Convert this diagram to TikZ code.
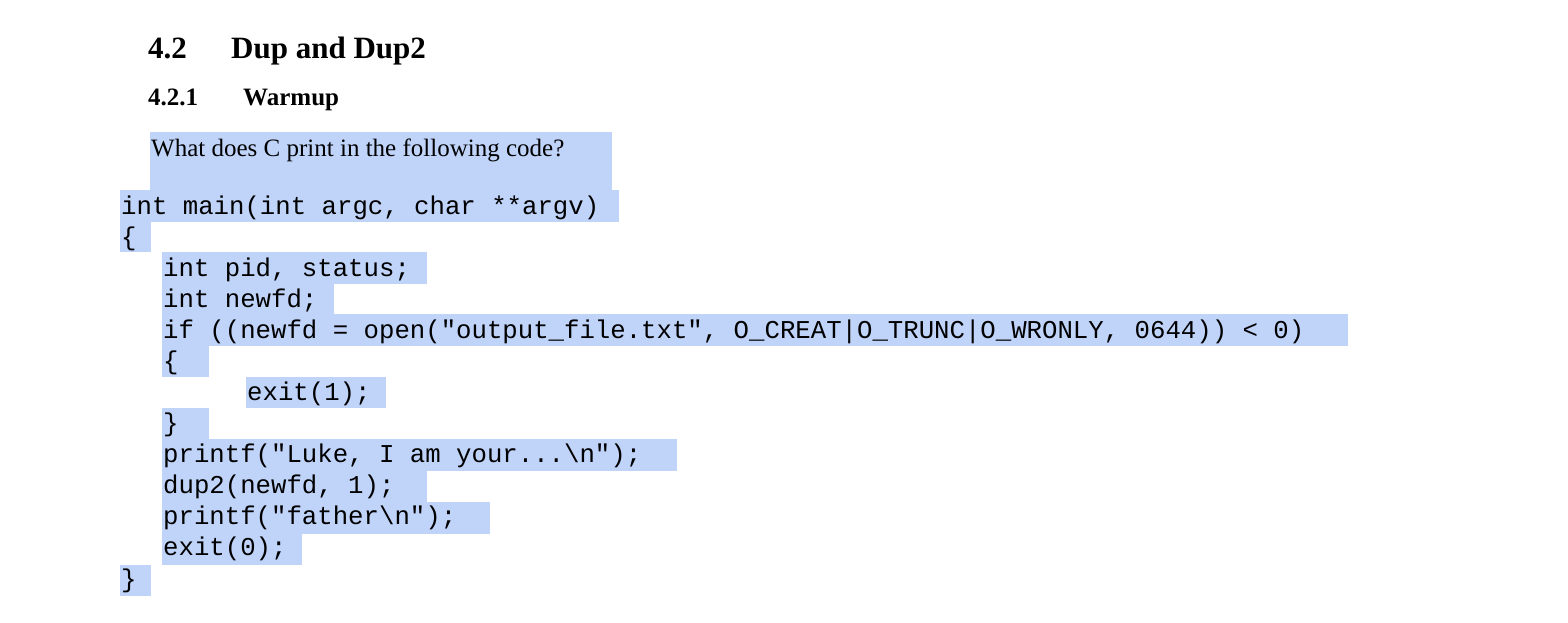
\documentclass[tikz,border=0pt]{standalone}
\usepackage{fontspec}
\setmainfont{Liberation Serif}
\setmonofont{Liberation Mono}
\definecolor{hl}{HTML}{C0D4FA}
\begin{document}
\begin{tikzpicture}[x=1pt,y=-1pt,
  txt/.style={anchor=base west,inner sep=0pt},
  code/.style={txt,font=\fontsize{25.7}{30}\ttfamily},
  hlbox/.style={fill=hl,draw=none}]
\useasboundingbox (0,0) rectangle (1568,622);
\fill[white] (0,0) rectangle (1568,622);
% highlights
\fill[hl] (150,132) rectangle (612,190);
\fill[hl] (120,190) rectangle (619,222);
\fill[hl] (120,222) rectangle (151,252);
\fill[hl] (162,252) rectangle (427,284);
\fill[hl] (162,284) rectangle (334,314);
\fill[hl] (162,314) rectangle (1348,346);
\fill[hl] (162,346) rectangle (209,377);
\fill[hl] (246,377) rectangle (386,408);
\fill[hl] (162,408) rectangle (209,439);
\fill[hl] (162,439) rectangle (677,471);
\fill[hl] (162,471) rectangle (427,502);
\fill[hl] (162,502) rectangle (490,534);
\fill[hl] (162,534) rectangle (302,565);
\fill[hl] (120,565) rectangle (151,596);
% headings
\node[txt,font=\fontsize{31}{36}\bfseries] (s1) at (148,58) {4.2};
\node[txt,font=\fontsize{31}{36}\bfseries] (s1t) at (231,58) {Dup and Dup2};
\node[txt,font=\fontsize{25}{30}\bfseries] (s2) at (148,105) {4.2.1};
\node[txt,font=\fontsize{25}{30}\bfseries] (s2t) at (243,105) {Warmup};
\node[txt,font=\fontsize{25}{30}\selectfont] (q) at (151,156) {What does C print in the following code?};
% code
\node[code] (c1) at (121,214) {int main(int argc, char **argv)};
\node[code] (c2) at (121,245) {\{};
\node[code] (c3) at (163,276) {int pid, status;};
\node[code] (c4) at (163,307) {int newfd;};
\node[code] (c5) at (163,338) {if ((newfd = open("output\_file.txt", O\_CREAT|O\_TRUNC|O\_WRONLY, 0644)) < 0)};
\node[code] (c6) at (163,369) {\{};
\node[code] (c7) at (247,400) {exit(1);};
\node[code] (c8) at (163,431) {\}};
\node[code] (c9) at (163,462) {printf("Luke, I am your...\textbackslash n");};
\node[code] (c10) at (163,493) {dup2(newfd, 1);};
\node[code] (c11) at (163,524) {printf("father\textbackslash n");};
\node[code] (c12) at (163,555) {exit(0);};
\node[code] (c13) at (121,587) {\}};
\end{tikzpicture}
\end{document}
